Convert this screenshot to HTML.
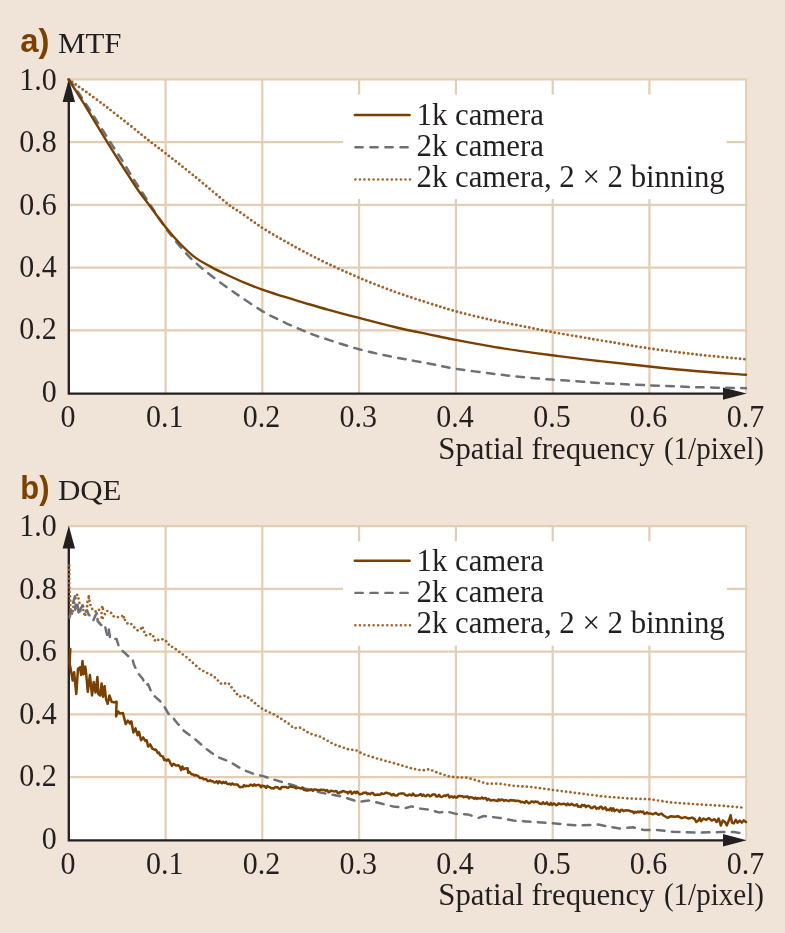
<!DOCTYPE html>
<html lang="en"><head><meta charset="utf-8"><title>MTF and DQE</title>
<style>html,body{margin:0;padding:0;background:#efe4d7}svg{display:block}text{font-family:"Liberation Serif","DejaVu Serif",serif;font-size:32px;fill:#231f20}.lb{font-family:"Liberation Sans","DejaVu Sans",sans-serif;font-weight:bold;font-size:33.5px;fill:#7a4100}</style></head><body>
<svg width="785" height="933" viewBox="0 0 785 933">
<rect width="785" height="933" fill="#efe4d7"/>
<rect x="68.8" y="79.4" width="678.4" height="313.8" fill="#fff"/>
<path d="M68.8,330.4H747.2M68.8,267.7H747.2M68.8,204.9H747.2M68.8,142.2H747.2M68.8,79.4H747.2M165.6,78.4V393.2M262.3,78.4V393.2M359.1,78.4V393.2M455.9,78.4V393.2M552.7,78.4V393.2M649.4,78.4V393.2M746.2,78.4V393.2" stroke="#e3ceb3" stroke-width="2.2" fill="none"/>
<rect x="343.0" y="94.6" width="383.8" height="104.4" fill="#fff"/>
<path d="M68.8,99.4V393.6H728.2" fill="none" stroke="#231f20" stroke-width="2.3" stroke-linejoin="miter"/>
<path d="M68.8,78.9L62.6,101.9L75.0,101.9Z" fill="#231f20"/>
<path d="M746.7,393.6L723.0,387.4L723.0,399.8Z" fill="#231f20"/>
<path d="M68.7,79.5 C74.9,84.0 92.2,96.0 105.9,106.5 C119.6,117.0 141.1,134.4 151.0,142.2 C160.9,150.0 158.4,147.7 165.5,153.3 C172.6,158.9 183.3,167.2 193.8,175.7 C204.3,184.2 220.6,198.2 228.5,204.5 C236.4,210.8 235.9,209.3 241.5,213.2 C247.1,217.1 255.5,223.5 262.3,227.9 C269.1,232.3 275.6,235.8 282.3,239.7 C289.0,243.5 295.1,247.0 302.7,251.0 C310.2,255.0 318.2,259.2 327.6,263.6 C337.0,268.1 347.8,273.0 358.9,277.7 C370.0,282.4 383.2,287.6 394.5,291.7 C405.8,295.8 416.4,299.1 426.6,302.4 C436.8,305.7 445.0,308.4 455.7,311.3 C466.4,314.2 480.0,317.4 491.0,319.9 C502.0,322.3 511.3,324.0 521.5,326.0 C531.7,328.0 541.9,330.2 552.1,332.1 C562.3,334.0 574.7,336.0 582.7,337.4 C590.7,338.8 588.9,338.5 600.0,340.3 C611.1,342.1 633.0,346.0 649.3,348.4 C665.6,350.8 681.9,352.8 697.8,354.6 C713.7,356.4 736.9,358.4 744.7,359.2" fill="none" stroke="#a1632a" stroke-width="2.9" stroke-dasharray="0 4.35" stroke-linecap="round"/>
<path d="M68.7,79.5 C69.3,80.3 70.5,81.3 72.5,84.1 C74.5,86.9 78.1,92.1 80.9,96.3 C83.7,100.5 86.6,105.0 89.4,109.3 C92.2,113.6 94.8,117.9 97.5,122.1 C100.2,126.3 102.7,130.3 105.4,134.5 C108.1,138.7 111.0,143.3 113.7,147.5 C116.4,151.7 119.1,155.6 121.8,159.8 C124.5,164.0 127.1,168.6 129.7,172.8 C132.3,177.0 133.8,179.5 137.4,185.0 C141.0,190.5 146.3,198.9 151.0,206.0 C155.7,213.1 162.0,222.7 165.5,227.8 C169.0,232.9 169.7,233.5 172.2,236.7 C174.7,239.9 177.3,243.3 180.4,246.9 C183.5,250.5 187.2,254.7 190.6,258.1 C194.0,261.5 197.1,264.2 200.8,267.3 C204.5,270.4 208.6,273.6 213.0,277.0 C217.4,280.4 222.6,284.2 227.3,287.6 C232.1,291.0 235.7,293.5 241.5,297.4 C247.3,301.3 255.5,307.1 262.3,311.1 C269.1,315.1 275.6,318.1 282.3,321.3 C289.0,324.5 296.4,327.8 302.7,330.4 C309.0,333.0 310.6,333.9 320.0,337.0 C329.4,340.1 346.5,345.8 358.9,349.2 C371.3,352.6 383.2,354.9 394.5,357.2 C405.8,359.5 416.4,361.2 426.6,363.1 C436.8,365.0 445.0,367.1 455.7,368.8 C466.4,370.5 480.0,372.1 491.0,373.5 C502.0,374.9 511.3,376.0 521.5,377.0 C531.7,378.0 541.9,378.8 552.1,379.6 C562.3,380.4 574.7,381.1 582.7,381.7 C590.7,382.3 588.9,382.5 600.0,383.1 C611.1,383.7 633.0,384.6 649.3,385.3 C665.6,386.0 681.7,386.7 697.8,387.2 C713.9,387.7 738.0,388.0 746.0,388.2" fill="none" stroke="#6d7176" stroke-width="2.5" stroke-dasharray="7.6 7.4" stroke-linecap="round"/>
<path d="M68.7,79.5 C71.8,84.5 81.1,99.1 87.5,109.5 C93.9,119.9 101.2,132.3 107.1,141.9 C113.0,151.5 117.8,159.0 123.0,167.0 C128.2,175.0 133.6,183.6 138.0,190.0 C142.4,196.4 144.9,199.3 149.5,205.5 C154.1,211.7 160.3,220.6 165.5,227.0 C170.7,233.4 175.5,239.0 180.4,244.0 C185.3,249.0 189.6,253.3 194.7,257.1 C199.8,260.9 205.6,263.9 211.0,266.9 C216.4,269.9 221.5,272.3 227.3,275.0 C233.1,277.7 239.8,280.8 245.6,283.2 C251.4,285.6 256.2,287.5 262.3,289.7 C268.4,291.9 275.6,294.1 282.3,296.2 C289.0,298.3 295.1,300.1 302.7,302.3 C310.2,304.5 318.2,307.0 327.6,309.6 C337.0,312.2 347.8,315.0 358.9,317.9 C370.0,320.8 383.2,324.3 394.5,327.0 C405.8,329.7 416.4,331.8 426.6,333.9 C436.8,336.0 445.0,337.8 455.7,339.9 C466.4,342.0 480.0,344.5 491.0,346.4 C502.0,348.3 511.3,349.6 521.5,351.1 C531.7,352.6 541.9,354.0 552.1,355.3 C562.3,356.6 574.7,358.1 582.7,359.1 C590.7,360.1 588.9,359.9 600.0,361.1 C611.1,362.3 633.0,364.8 649.3,366.5 C665.6,368.2 681.7,369.8 697.8,371.2 C713.9,372.6 738.0,374.2 746.0,374.8" fill="none" stroke="#7a4000" stroke-width="2.4" stroke-linecap="round" stroke-linejoin="round"/>
<path d="M354.8,115.1H409.6" stroke="#7a4000" stroke-width="2.5" stroke-linecap="round"/>
<path d="M355.4,147.2H410" stroke="#6d7176" stroke-width="2.4" stroke-linecap="round" stroke-dasharray="7.3 7.7"/>
<path d="M355.4,179.5H410" stroke="#a1632a" stroke-width="2.6" stroke-linecap="round" stroke-dasharray="0 4.55"/>
<text transform="translate(416.5,124.9) scale(0.9630,1)">1k camera</text>
<text transform="translate(416.5,156.0) scale(0.9630,1)">2k camera</text>
<text transform="translate(416.5,187.4) scale(0.9630,1)">2k camera, 2 × 2 binning</text>
<text transform="translate(56.8,401.8) scale(0.9375,1)" text-anchor="end">0</text>
<text transform="translate(56.8,339.4) scale(0.9375,1)" text-anchor="end">0.2</text>
<text transform="translate(56.8,277.0) scale(0.9375,1)" text-anchor="end">0.4</text>
<text transform="translate(56.8,214.5) scale(0.9375,1)" text-anchor="end">0.6</text>
<text transform="translate(56.8,152.1) scale(0.9375,1)" text-anchor="end">0.8</text>
<text transform="translate(56.8,89.7) scale(0.9375,1)" text-anchor="end">1.0</text>
<text transform="translate(68.0,426.8) scale(0.9375,1)" text-anchor="middle">0</text>
<text transform="translate(164.8,426.8) scale(0.9375,1)" text-anchor="middle">0.1</text>
<text transform="translate(261.5,426.8) scale(0.9375,1)" text-anchor="middle">0.2</text>
<text transform="translate(358.3,426.8) scale(0.9375,1)" text-anchor="middle">0.3</text>
<text transform="translate(455.1,426.8) scale(0.9375,1)" text-anchor="middle">0.4</text>
<text transform="translate(551.9,426.8) scale(0.9375,1)" text-anchor="middle">0.5</text>
<text transform="translate(648.6,426.8) scale(0.9375,1)" text-anchor="middle">0.6</text>
<text transform="translate(745.4,426.8) scale(0.9375,1)" text-anchor="middle">0.7</text>
<text transform="translate(438.3,458.7) scale(0.9625,1)">Spatial frequency</text>
<text transform="translate(764.0,458.7) scale(0.9090,1)" text-anchor="end">(1/pixel)</text>
<text class="lb" x="20.3" y="52.0" textLength="29.2" lengthAdjust="spacingAndGlyphs">a)</text>
<text transform="translate(57.9,53.0) scale(1.0150,1)" style="font-size:30.5px">MTF</text>
<rect x="68.8" y="526.1" width="678.4" height="313.8" fill="#fff"/>
<path d="M68.8,777.1H747.2M68.8,714.4H747.2M68.8,651.6H747.2M68.8,588.9H747.2M68.8,526.1H747.2M165.6,525.1V839.9M262.3,525.1V839.9M359.1,525.1V839.9M455.9,525.1V839.9M552.7,525.1V839.9M649.4,525.1V839.9M746.2,525.1V839.9" stroke="#e3ceb3" stroke-width="2.2" fill="none"/>
<rect x="343.0" y="541.3" width="383.8" height="104.4" fill="#fff"/>
<path d="M68.8,546.1V840.3H728.2" fill="none" stroke="#231f20" stroke-width="2.3" stroke-linejoin="miter"/>
<path d="M68.8,525.6L62.6,548.6L75.0,548.6Z" fill="#231f20"/>
<path d="M746.7,840.3L723.0,834.1L723.0,846.5Z" fill="#231f20"/>
<g fill="#a1632a"><circle cx="69.3" cy="565.5" r="1.35"/><circle cx="69.3" cy="569.9" r="1.35"/><circle cx="69.3" cy="574.3" r="1.35"/><circle cx="69.3" cy="578.7" r="1.35"/><circle cx="69.3" cy="583.1" r="1.35"/><circle cx="69.5" cy="587.5" r="1.35"/><circle cx="69.7" cy="591.9" r="1.35"/><circle cx="70.0" cy="596.3" r="1.35"/><circle cx="70.3" cy="600.7" r="1.35"/><circle cx="70.3" cy="605.1" r="1.35"/><circle cx="70.5" cy="609.4" r="1.35"/><circle cx="72.0" cy="613.6" r="1.35"/><circle cx="72.8" cy="611.2" r="1.35"/><circle cx="73.4" cy="606.9" r="1.35"/><circle cx="74.2" cy="602.6" r="1.35"/><circle cx="75.4" cy="598.3" r="1.35"/><circle cx="77.2" cy="594.9" r="1.35"/><circle cx="78.5" cy="598.5" r="1.35"/><circle cx="79.4" cy="602.8" r="1.35"/><circle cx="82.3" cy="605.7" r="1.35"/><circle cx="83.3" cy="610.0" r="1.35"/><circle cx="84.4" cy="614.2" r="1.35"/><circle cx="85.4" cy="614.8" r="1.35"/><circle cx="86.4" cy="610.5" r="1.35"/><circle cx="87.1" cy="606.2" r="1.35"/><circle cx="87.5" cy="601.9" r="1.35"/><circle cx="88.8" cy="597.9" r="1.35"/><circle cx="88.8" cy="596.4" r="1.35"/><circle cx="89.5" cy="600.7" r="1.35"/><circle cx="90.4" cy="605.0" r="1.35"/><circle cx="92.2" cy="608.9" r="1.35"/><circle cx="95.6" cy="611.4" r="1.35"/><circle cx="99.0" cy="609.8" r="1.35"/><circle cx="102.2" cy="607.2" r="1.35"/><circle cx="103.0" cy="608.9" r="1.35"/><circle cx="101.7" cy="613.0" r="1.35"/><circle cx="101.7" cy="617.4" r="1.35"/><circle cx="102.8" cy="618.0" r="1.35"/><circle cx="104.9" cy="614.1" r="1.35"/><circle cx="107.3" cy="611.0" r="1.35"/><circle cx="111.1" cy="612.9" r="1.35"/><circle cx="113.7" cy="616.3" r="1.35"/><circle cx="117.9" cy="617.1" r="1.35"/><circle cx="122.2" cy="616.0" r="1.35"/><circle cx="123.8" cy="617.4" r="1.35"/><circle cx="124.9" cy="620.0" r="1.35"/><circle cx="127.4" cy="623.4" r="1.35"/><circle cx="131.3" cy="624.1" r="1.35"/><circle cx="134.2" cy="627.4" r="1.35"/><circle cx="137.6" cy="630.3" r="1.35"/><circle cx="141.1" cy="628.6" r="1.35"/><circle cx="142.8" cy="627.8" r="1.35"/><circle cx="144.3" cy="631.9" r="1.35"/><circle cx="146.1" cy="635.3" r="1.35"/><circle cx="150.2" cy="634.2" r="1.35"/><circle cx="153.2" cy="636.3" r="1.35"/><circle cx="154.9" cy="640.4" r="1.35"/><circle cx="158.2" cy="639.9" r="1.35"/><circle cx="162.4" cy="639.3" r="1.35"/><circle cx="166.1" cy="641.2" r="1.35"/><circle cx="168.8" cy="644.6" r="1.35"/><circle cx="172.1" cy="646.8" r="1.35"/><circle cx="175.8" cy="649.2" r="1.35"/><circle cx="179.3" cy="651.9" r="1.35"/><circle cx="182.8" cy="654.5" r="1.35"/><circle cx="186.4" cy="657.1" r="1.35"/><circle cx="189.7" cy="660.0" r="1.35"/><circle cx="192.9" cy="662.9" r="1.35"/><circle cx="196.2" cy="665.9" r="1.35"/><circle cx="199.5" cy="668.8" r="1.35"/><circle cx="203.3" cy="671.0" r="1.35"/><circle cx="207.2" cy="673.0" r="1.35"/><circle cx="211.2" cy="674.9" r="1.35"/><circle cx="214.8" cy="677.4" r="1.35"/><circle cx="217.9" cy="680.5" r="1.35"/><circle cx="221.0" cy="683.6" r="1.35"/><circle cx="225.1" cy="683.4" r="1.35"/><circle cx="229.0" cy="683.8" r="1.35"/><circle cx="231.6" cy="687.3" r="1.35"/><circle cx="234.3" cy="690.8" r="1.35"/><circle cx="237.0" cy="694.2" r="1.35"/><circle cx="240.2" cy="696.5" r="1.35"/><circle cx="244.5" cy="695.8" r="1.35"/><circle cx="248.2" cy="697.7" r="1.35"/><circle cx="251.6" cy="700.4" r="1.35"/><circle cx="255.0" cy="703.2" r="1.35"/><circle cx="258.4" cy="706.0" r="1.35"/><circle cx="261.9" cy="708.7" r="1.35"/><circle cx="265.8" cy="710.7" r="1.35"/><circle cx="269.8" cy="712.5" r="1.35"/><circle cx="273.8" cy="714.3" r="1.35"/><circle cx="277.6" cy="716.6" r="1.35"/><circle cx="281.3" cy="718.9" r="1.35"/><circle cx="285.0" cy="721.3" r="1.35"/><circle cx="288.7" cy="723.7" r="1.35"/><circle cx="292.0" cy="726.7" r="1.35"/><circle cx="295.7" cy="728.1" r="1.35"/><circle cx="300.1" cy="727.7" r="1.35"/><circle cx="303.9" cy="729.8" r="1.35"/><circle cx="307.6" cy="732.2" r="1.35"/><circle cx="311.5" cy="734.1" r="1.35"/><circle cx="315.7" cy="735.4" r="1.35"/><circle cx="320.0" cy="736.6" r="1.35"/><circle cx="323.8" cy="738.7" r="1.35"/><circle cx="327.7" cy="740.8" r="1.35"/><circle cx="331.5" cy="743.0" r="1.35"/><circle cx="335.5" cy="744.9" r="1.35"/><circle cx="339.6" cy="746.3" r="1.35"/><circle cx="343.8" cy="747.8" r="1.35"/><circle cx="347.9" cy="749.2" r="1.35"/><circle cx="352.3" cy="749.8" r="1.35"/><circle cx="356.6" cy="750.5" r="1.35"/><circle cx="360.4" cy="752.7" r="1.35"/><circle cx="364.4" cy="754.5" r="1.35"/><circle cx="368.6" cy="755.8" r="1.35"/><circle cx="372.8" cy="757.2" r="1.35"/><circle cx="377.0" cy="758.5" r="1.35"/><circle cx="381.2" cy="759.7" r="1.35"/><circle cx="385.5" cy="760.9" r="1.35"/><circle cx="389.7" cy="762.0" r="1.35"/><circle cx="394.0" cy="763.2" r="1.35"/><circle cx="398.2" cy="764.4" r="1.35"/><circle cx="402.4" cy="765.7" r="1.35"/><circle cx="406.6" cy="766.9" r="1.35"/><circle cx="410.8" cy="768.2" r="1.35"/><circle cx="415.1" cy="769.1" r="1.35"/><circle cx="419.4" cy="770.0" r="1.35"/><circle cx="423.8" cy="770.2" r="1.35"/><circle cx="428.1" cy="769.4" r="1.35"/><circle cx="432.2" cy="770.5" r="1.35"/><circle cx="436.3" cy="772.2" r="1.35"/><circle cx="440.4" cy="773.7" r="1.35"/><circle cx="444.6" cy="775.0" r="1.35"/><circle cx="448.8" cy="776.3" r="1.35"/><circle cx="453.2" cy="776.9" r="1.35"/><circle cx="457.6" cy="777.3" r="1.35"/><circle cx="461.9" cy="777.5" r="1.35"/><circle cx="466.3" cy="777.7" r="1.35"/><circle cx="470.6" cy="778.7" r="1.35"/><circle cx="474.8" cy="779.9" r="1.35"/><circle cx="479.0" cy="781.2" r="1.35"/><circle cx="483.2" cy="782.6" r="1.35"/><circle cx="487.4" cy="783.7" r="1.35"/><circle cx="491.8" cy="783.7" r="1.35"/><circle cx="496.2" cy="783.7" r="1.35"/><circle cx="500.6" cy="783.8" r="1.35"/><circle cx="505.0" cy="784.5" r="1.35"/><circle cx="509.3" cy="785.2" r="1.35"/><circle cx="513.7" cy="785.8" r="1.35"/><circle cx="518.1" cy="786.1" r="1.35"/><circle cx="522.4" cy="786.4" r="1.35"/><circle cx="526.8" cy="786.7" r="1.35"/><circle cx="531.2" cy="787.1" r="1.35"/><circle cx="535.6" cy="787.6" r="1.35"/><circle cx="539.9" cy="788.2" r="1.35"/><circle cx="544.3" cy="788.8" r="1.35"/><circle cx="548.7" cy="789.4" r="1.35"/><circle cx="553.0" cy="790.0" r="1.35"/><circle cx="557.4" cy="790.6" r="1.35"/><circle cx="561.7" cy="791.1" r="1.35"/><circle cx="566.1" cy="791.7" r="1.35"/><circle cx="570.5" cy="792.2" r="1.35"/><circle cx="574.8" cy="792.8" r="1.35"/><circle cx="579.2" cy="793.3" r="1.35"/><circle cx="583.6" cy="793.9" r="1.35"/><circle cx="587.9" cy="794.5" r="1.35"/><circle cx="592.3" cy="795.0" r="1.35"/><circle cx="596.7" cy="795.6" r="1.35"/><circle cx="601.0" cy="796.2" r="1.35"/><circle cx="605.4" cy="796.6" r="1.35"/><circle cx="609.8" cy="797.0" r="1.35"/><circle cx="614.2" cy="797.3" r="1.35"/><circle cx="618.6" cy="797.7" r="1.35"/><circle cx="622.9" cy="798.0" r="1.35"/><circle cx="627.3" cy="798.4" r="1.35"/><circle cx="631.7" cy="798.6" r="1.35"/><circle cx="636.1" cy="798.8" r="1.35"/><circle cx="640.5" cy="798.9" r="1.35"/><circle cx="644.9" cy="799.1" r="1.35"/><circle cx="649.3" cy="799.2" r="1.35"/><circle cx="653.7" cy="799.8" r="1.35"/><circle cx="658.0" cy="800.5" r="1.35"/><circle cx="662.4" cy="801.2" r="1.35"/><circle cx="666.7" cy="801.8" r="1.35"/><circle cx="671.1" cy="802.4" r="1.35"/><circle cx="675.5" cy="802.8" r="1.35"/><circle cx="679.8" cy="803.1" r="1.35"/><circle cx="684.2" cy="803.4" r="1.35"/><circle cx="688.6" cy="803.7" r="1.35"/><circle cx="693.0" cy="804.0" r="1.35"/><circle cx="697.4" cy="804.3" r="1.35"/><circle cx="701.8" cy="804.6" r="1.35"/><circle cx="706.2" cy="804.9" r="1.35"/><circle cx="710.6" cy="805.1" r="1.35"/><circle cx="715.0" cy="805.4" r="1.35"/><circle cx="719.4" cy="805.6" r="1.35"/><circle cx="723.8" cy="805.9" r="1.35"/><circle cx="728.1" cy="806.3" r="1.35"/><circle cx="732.5" cy="806.7" r="1.35"/><circle cx="736.9" cy="807.1" r="1.35"/><circle cx="741.3" cy="807.5" r="1.35"/></g>
<polyline points="69.6,617.4 71.0,610.4 72.7,604.0 74.9,596.3 75.9,601.2 75.2,609.7 77.3,602.6 78.7,613.9 79.7,615.3 80.8,608.3 82.9,605.4 85.0,612.5 87.1,610.4 88.9,615.3 91.3,615.3 93.4,620.2 95.5,615.3 97.4,612.5 97.6,620.9 101.1,625.1 104.6,623.7 106.0,630.7 107.4,635.6 108.8,629.3 110.2,639.1 112.3,638.4 116.6,639.1 118.7,646.1 121.5,650.3 124.3,652.4 127.8,655.9 132.0,657.3 133.8,664.3 135.5,668.0 138.3,673.6 142.5,678.5 146.0,685.5 148.1,684.1 150.6,690.4 154.4,696.1 160.0,701.0 163.5,705.2 168.4,713.6 171.9,715.7 175.0,720.5 184.1,731.0 194.8,739.0 205.5,748.3 216.2,756.4 229.6,761.7 242.9,769.7 253.6,773.8 262.2,775.9 275.0,779.9 288.4,783.9 299.1,787.1 320.5,792.5 341.9,796.5 358.8,801.9 368.7,800.5 382.1,803.7 392.8,806.4 406.0,808.0 411.5,806.4 420.0,808.6 430.3,809.9 439.6,812.6 446.0,811.2 455.7,813.9 467.7,814.4 478.4,817.9 483.8,816.0 499.8,817.9 513.2,820.6 531.9,821.9 552.1,823.3 576.8,825.4 598.2,824.6 619.6,828.6 632.9,827.3 643.6,829.9 657.0,829.9 673.1,831.8 699.8,832.6 721.2,832.1 734.0,832.0 746.0,834.0" fill="none" stroke="#6d7176" stroke-width="2.5" stroke-dasharray="7.6 7.4" stroke-linecap="round" stroke-linejoin="round"/>
<polyline points="70.3,649.1 70.0,655.4 69.7,663.8 71.0,670.8 72.7,680.6 74.1,672.2 76.3,694.0 78.0,668.7 80.1,667.3 81.1,675.0 82.5,661.0 83.6,674.3 85.3,666.6 86.1,672.9 87.8,691.8 89.9,675.0 92.0,695.4 93.7,682.0 95.5,692.6 97.4,677.1 98.3,694.0 100.2,695.4 101.6,683.4 103.0,696.8 104.6,686.2 106.0,698.9 107.7,703.8 109.5,695.4 111.6,701.7 113.7,702.4 116.6,701.7 116.1,716.4 118.0,711.5 120.1,713.6 122.9,712.9 125.7,724.1 127.8,720.6 129.9,723.4 131.3,721.3 133.4,732.5 135.5,728.3 137.6,735.3 139.0,731.8 141.1,740.2 143.2,737.4 145.3,740.9 146.7,740.2 148.1,746.5 150.2,744.4 152.3,748.6 155.1,750.0 155.1,749.4 156.4,750.2 157.7,753.1 159.0,752.6 160.3,755.4 161.6,756.1 162.9,756.4 164.2,760.0 165.5,759.6 166.8,760.7 168.1,759.3 169.4,760.9 170.7,763.9 172.0,765.9 173.3,763.9 174.6,764.5 175.9,765.4 177.2,765.6 178.5,765.3 179.8,766.6 181.1,770.1 182.4,766.5 183.7,769.2 185.0,768.5 186.3,768.5 187.6,768.3 188.1,772.7 189.4,771.8 190.7,773.5 192.0,774.4 193.3,774.5 194.6,775.7 195.9,775.1 197.2,775.6 198.5,776.4 199.8,778.1 201.1,777.9 202.4,778.1 203.7,779.2 205.0,779.3 206.3,779.3 207.6,781.1 208.9,781.1 210.2,780.2 211.5,781.2 212.8,781.3 214.1,782.4 215.4,782.2 216.7,781.3 218.0,783.3 219.3,781.3 220.6,782.2 221.9,783.3 223.2,781.9 224.5,782.9 225.8,781.9 227.1,783.7 228.4,784.1 229.7,783.8 231.0,784.7 232.3,783.4 233.6,784.5 234.9,784.4 236.2,784.5 237.5,784.4 238.8,786.2 240.1,787.3 241.4,786.9 242.7,787.1 244.0,785.1 245.3,786.3 246.6,785.7 247.9,786.1 249.2,785.8 250.5,784.6 251.8,785.0 253.1,785.9 254.4,784.4 255.7,785.7 257.0,785.1 258.3,785.1 259.6,785.1 260.9,787.1 262.2,785.6 263.5,786.0 264.8,786.5 266.1,787.8 267.4,785.9 268.7,786.9 270.0,787.3 271.3,788.2 272.6,788.2 273.9,788.4 275.2,787.0 276.5,787.4 277.8,787.3 279.1,788.8 280.4,789.1 281.7,786.9 283.0,786.9 284.3,787.0 285.6,786.9 286.9,787.5 288.2,787.7 289.5,786.8 290.8,786.1 292.1,787.1 293.4,786.9 294.7,787.4 296.0,788.3 297.3,787.8 298.6,787.7 299.9,788.2 301.2,788.7 302.5,787.4 303.8,789.9 305.1,789.9 306.4,790.5 307.7,790.6 309.0,789.8 310.3,790.1 311.6,789.4 312.9,790.8 314.2,789.4 315.5,789.5 316.8,789.9 318.1,789.9 319.4,790.4 320.7,789.7 322.0,789.7 323.3,790.1 324.6,790.1 325.9,790.8 327.2,790.0 328.5,792.3 329.8,791.7 331.1,790.6 332.4,791.0 333.7,791.3 335.0,791.4 336.3,790.9 337.6,792.8 338.9,793.3 340.2,792.0 341.5,792.1 342.8,791.1 344.1,791.3 345.4,792.0 346.7,791.9 348.0,793.4 349.3,791.7 350.6,791.4 351.9,793.9 353.2,792.8 354.5,791.9 355.8,793.0 357.1,791.7 358.4,793.1 359.7,794.3 361.0,794.0 362.3,793.7 363.6,792.6 364.9,792.9 366.2,792.5 367.5,794.1 368.8,793.5 370.1,794.2 371.4,793.1 372.7,792.9 374.0,794.5 375.3,795.0 376.6,794.7 377.9,794.6 379.2,794.7 380.5,794.5 381.8,793.2 383.1,794.0 384.4,793.6 385.7,792.8 387.0,792.8 388.3,793.5 389.6,793.5 390.9,794.6 392.2,795.3 393.5,794.0 394.8,795.3 396.1,795.5 397.4,795.4 398.7,793.9 400.0,793.6 401.3,793.6 402.6,793.6 403.9,793.6 405.2,794.8 406.5,795.5 407.8,795.4 409.1,794.5 410.4,795.0 411.7,795.4 413.0,793.6 414.3,795.1 415.6,795.8 416.9,795.5 418.2,795.5 419.5,794.8 420.8,794.1 422.1,795.7 423.4,794.6 424.7,795.8 426.0,796.3 427.3,794.8 428.6,794.9 429.9,796.3 431.2,795.8 432.5,794.5 433.8,794.4 435.1,794.5 436.4,796.6 437.7,796.4 439.0,794.7 440.3,796.6 441.6,797.0 442.9,796.3 444.2,795.5 445.5,796.1 446.8,795.1 448.1,794.8 449.4,797.4 450.7,796.6 452.0,796.4 453.3,797.5 454.6,796.3 455.9,797.5 457.2,797.4 458.5,795.9 459.8,796.1 461.1,796.3 462.4,796.3 463.7,797.2 465.0,796.5 466.3,797.0 467.6,796.3 468.9,798.4 470.2,797.1 471.5,797.4 472.8,797.8 474.1,798.7 475.4,797.6 476.7,799.0 478.0,798.1 479.3,798.4 480.6,798.6 481.9,797.4 483.2,798.7 484.5,798.2 485.8,798.0 487.1,800.2 488.4,798.8 489.7,799.7 491.0,800.6 492.3,800.3 493.6,799.9 494.9,800.5 496.2,800.6 497.5,801.1 498.8,799.3 500.1,800.5 501.4,799.6 502.7,799.7 504.0,800.9 505.3,800.2 506.6,800.3 507.9,800.8 509.2,801.1 510.5,799.9 511.8,800.4 513.1,800.3 514.4,800.5 515.7,801.1 517.0,800.6 518.3,801.0 519.6,801.0 520.9,802.3 522.2,801.8 523.5,802.4 524.8,802.8 526.1,801.1 527.4,802.1 528.7,803.2 530.0,803.1 531.3,801.4 532.6,801.5 533.9,802.4 535.2,801.5 536.5,802.0 537.8,801.7 539.1,803.3 540.4,803.7 541.7,804.1 543.0,802.2 544.3,803.7 545.6,803.7 546.9,802.4 548.2,804.4 549.5,804.7 550.8,802.9 552.1,804.9 553.4,803.5 554.7,803.8 556.0,805.2 557.3,804.9 558.6,803.2 559.9,804.0 561.2,804.3 562.5,803.9 563.8,803.7 565.1,804.1 566.4,805.2 567.7,803.5 569.0,804.9 570.3,804.7 571.6,803.7 572.9,804.6 574.2,805.5 575.5,805.2 576.8,804.2 578.1,806.7 579.4,806.4 580.7,807.0 582.0,804.9 583.3,805.5 584.6,805.0 585.9,807.1 587.2,805.9 588.5,805.7 589.8,806.7 591.1,808.1 592.4,808.0 593.7,806.7 595.0,806.6 596.3,808.7 597.6,808.0 598.9,808.5 600.2,806.8 601.5,806.8 602.8,809.0 604.1,808.3 605.4,807.4 606.7,810.3 608.0,809.5 609.3,810.2 610.6,808.1 611.9,810.7 613.2,808.4 614.5,811.1 615.8,810.0 617.1,809.8 618.4,810.6 619.7,812.0 621.0,810.0 622.3,809.8 623.6,811.2 624.9,810.5 626.2,810.2 627.5,810.6 628.8,810.4 630.1,811.0 631.4,811.5 632.7,811.6 634.0,813.1 635.3,811.7 636.6,812.5 637.9,811.6 639.2,812.3 640.5,811.3 641.8,812.2 643.1,811.5 644.4,813.9 645.7,813.4 647.0,812.4 648.3,813.4 650.0,813.4 652.8,814.3 655.6,812.9 658.4,814.8 661.2,813.6 664.0,815.7 667.5,817.8 671.0,816.2 674.5,816.7 678.0,816.2 681.5,818.1 685.0,817.1 688.5,818.5 692.0,817.6 694.8,819.2 696.2,822.0 698.3,820.6 699.7,817.8 701.1,821.3 703.3,818.5 706.1,819.9 708.9,818.1 711.7,820.6 714.5,819.2 716.6,822.0 718.7,818.5 720.8,825.5 722.9,820.6 725.0,822.0 726.8,825.5 728.5,821.3 730.6,815.3 732.0,822.7 733.8,823.4 735.8,819.9 737.6,822.7 739.7,820.6 741.8,822.7 743.6,820.4 746.0,822.0" fill="none" stroke="#7a4000" stroke-width="2.5" stroke-linecap="round" stroke-linejoin="round"/>
<path d="M354.8,560.8H409.6" stroke="#7a4000" stroke-width="2.5" stroke-linecap="round"/>
<path d="M355.4,592.9H410" stroke="#6d7176" stroke-width="2.4" stroke-linecap="round" stroke-dasharray="7.3 7.7"/>
<path d="M355.4,625.2H410" stroke="#a1632a" stroke-width="2.6" stroke-linecap="round" stroke-dasharray="0 4.55"/>
<text transform="translate(416.5,570.6) scale(0.9630,1)">1k camera</text>
<text transform="translate(416.5,601.7) scale(0.9630,1)">2k camera</text>
<text transform="translate(416.5,633.1) scale(0.9630,1)">2k camera, 2 × 2 binning</text>
<text transform="translate(56.8,848.5) scale(0.9375,1)" text-anchor="end">0</text>
<text transform="translate(56.8,786.1) scale(0.9375,1)" text-anchor="end">0.2</text>
<text transform="translate(56.8,723.7) scale(0.9375,1)" text-anchor="end">0.4</text>
<text transform="translate(56.8,661.2) scale(0.9375,1)" text-anchor="end">0.6</text>
<text transform="translate(56.8,598.8) scale(0.9375,1)" text-anchor="end">0.8</text>
<text transform="translate(56.8,536.4) scale(0.9375,1)" text-anchor="end">1.0</text>
<text transform="translate(68.0,873.5) scale(0.9375,1)" text-anchor="middle">0</text>
<text transform="translate(164.8,873.5) scale(0.9375,1)" text-anchor="middle">0.1</text>
<text transform="translate(261.5,873.5) scale(0.9375,1)" text-anchor="middle">0.2</text>
<text transform="translate(358.3,873.5) scale(0.9375,1)" text-anchor="middle">0.3</text>
<text transform="translate(455.1,873.5) scale(0.9375,1)" text-anchor="middle">0.4</text>
<text transform="translate(551.9,873.5) scale(0.9375,1)" text-anchor="middle">0.5</text>
<text transform="translate(648.6,873.5) scale(0.9375,1)" text-anchor="middle">0.6</text>
<text transform="translate(745.4,873.5) scale(0.9375,1)" text-anchor="middle">0.7</text>
<text transform="translate(438.3,905.4) scale(0.9625,1)">Spatial frequency</text>
<text transform="translate(764.0,905.4) scale(0.9090,1)" text-anchor="end">(1/pixel)</text>
<text class="lb" x="20.3" y="498.7" textLength="29.2" lengthAdjust="spacingAndGlyphs">b)</text>
<text transform="translate(57.9,499.7) scale(1.0150,1)" style="font-size:30.5px">DQE</text>
</svg></body></html>
